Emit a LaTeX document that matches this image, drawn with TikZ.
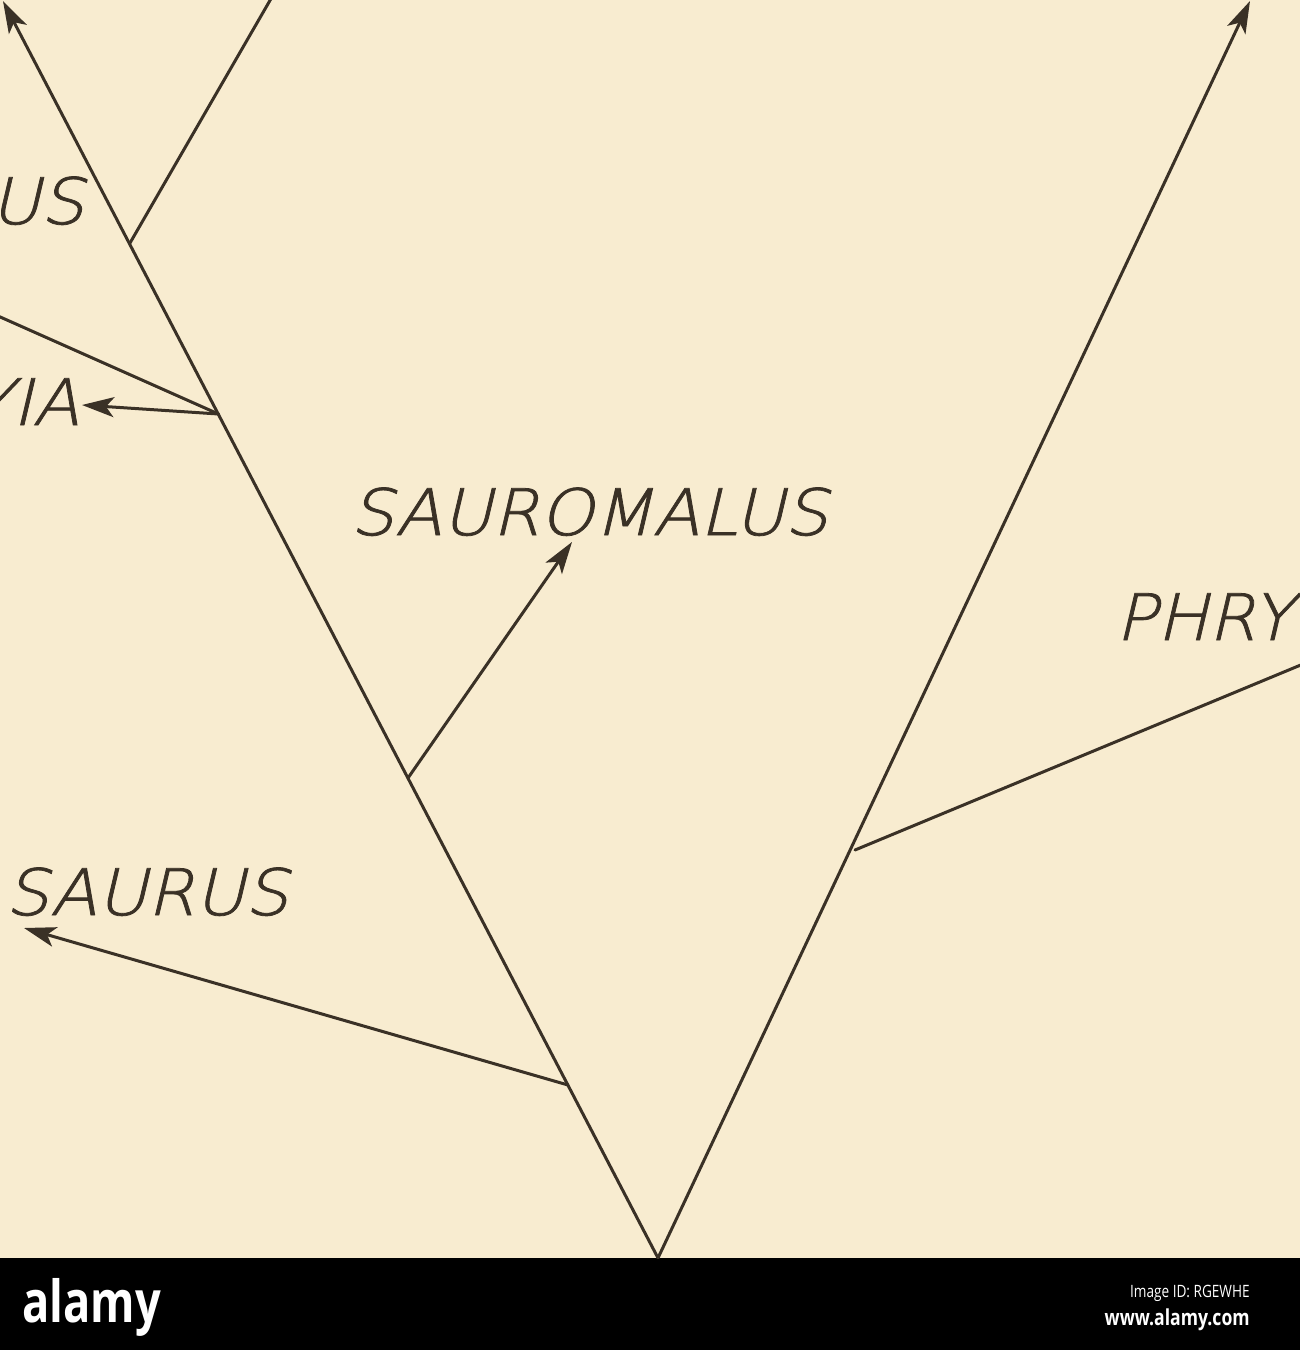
\documentclass[tikz,border=0pt]{standalone}
\usepackage{fontspec}
\setmainfont{DejaVu Sans}
\newfontfamily\lab{DejaVuSans-ExtraLight.ttf}[FakeSlant=0.22,FakeBold=1.2]
\newfontfamily\barfont{Open Sans}
\usetikzlibrary{arrows.meta}
\definecolor{paper}{HTML}{F8ECD0}
\definecolor{ink}{HTML}{3A3126}
\tikzset{
  branch/.style={draw=ink, line width=1.5pt, line cap=round},
  arr/.style={branch, -{Stealth[length=16pt,width=10pt,inset=4pt]}},
  lbl/.style={inner sep=0pt, anchor=base west, text=ink, xscale=1.07, font=\lab\fontsize{32}{36}\selectfont},
}
\begin{document}
\begin{tikzpicture}[x=0.5pt,y=-0.5pt]
\useasboundingbox (0,0) rectangle (1300,1350);
\fill[paper] (0,0) rectangle (1300,1260);
\fill[black] (0,1258) rectangle (1300,1350);
\begin{scope}
\clip (0,0) rectangle (1300,1258);
% junctions
\coordinate (R) at (658,1258);
\coordinate (LT) at (3,1);
\coordinate (RT) at (1250,1);
\coordinate (jA) at (130,243);
\coordinate (jB) at (218.5,414);
\coordinate (jC) at (408,778);
\coordinate (jD) at (568,1085);
\coordinate (jE) at (855,850);
\coordinate (tA) at (276,-10);
\coordinate (tB) at (-20,308);
\coordinate (tE) at (1320,657);
\coordinate (aB) at (82,405);
\coordinate (aC) at (572,542);
\coordinate (aD) at (24,928);
% trunks
\draw[arr] (R) -- (LT);
\draw[arr] (R) -- (RT);
% branches
\draw[branch] (jA) -- (tA);
\draw[branch] (jB) -- (tB);
\draw[arr] (jB) -- (aB);
\draw[arr] (jC) -- (aC);
\draw[arr] (jD) -- (aD);
\draw[branch] (jE) -- (tE);
% labels
\node[lbl] (us) at (-10,224) {US};
\node[lbl] (yia) at (-30,425) {YIA};
\node[lbl] (sauro) at (350,535) {SAUROMALUS};
\node[lbl] (phry) at (1115,640) {PHRY};
\node[lbl] (dipso) at (5,915) {SAURUS};
\end{scope}
% bottom bar
\node[inner sep=0pt, anchor=base west, text=white, font=\barfont\bfseries\fontsize{29}{30}\selectfont, xscale=0.78] (alamy) at (22,1322) {alamy};
\node[inner sep=0pt, anchor=base east, text=white, font=\barfont\fontsize{8.5}{10}\selectfont, xscale=0.8] (imgid) at (1250,1297) {Image ID: RGEWHE};
\node[inner sep=0pt, anchor=base east, text=white, font=\barfont\bfseries\fontsize{11}{12}\selectfont, xscale=0.8] (www) at (1250,1325) {www.alamy.com};
\end{tikzpicture}
\end{document}
